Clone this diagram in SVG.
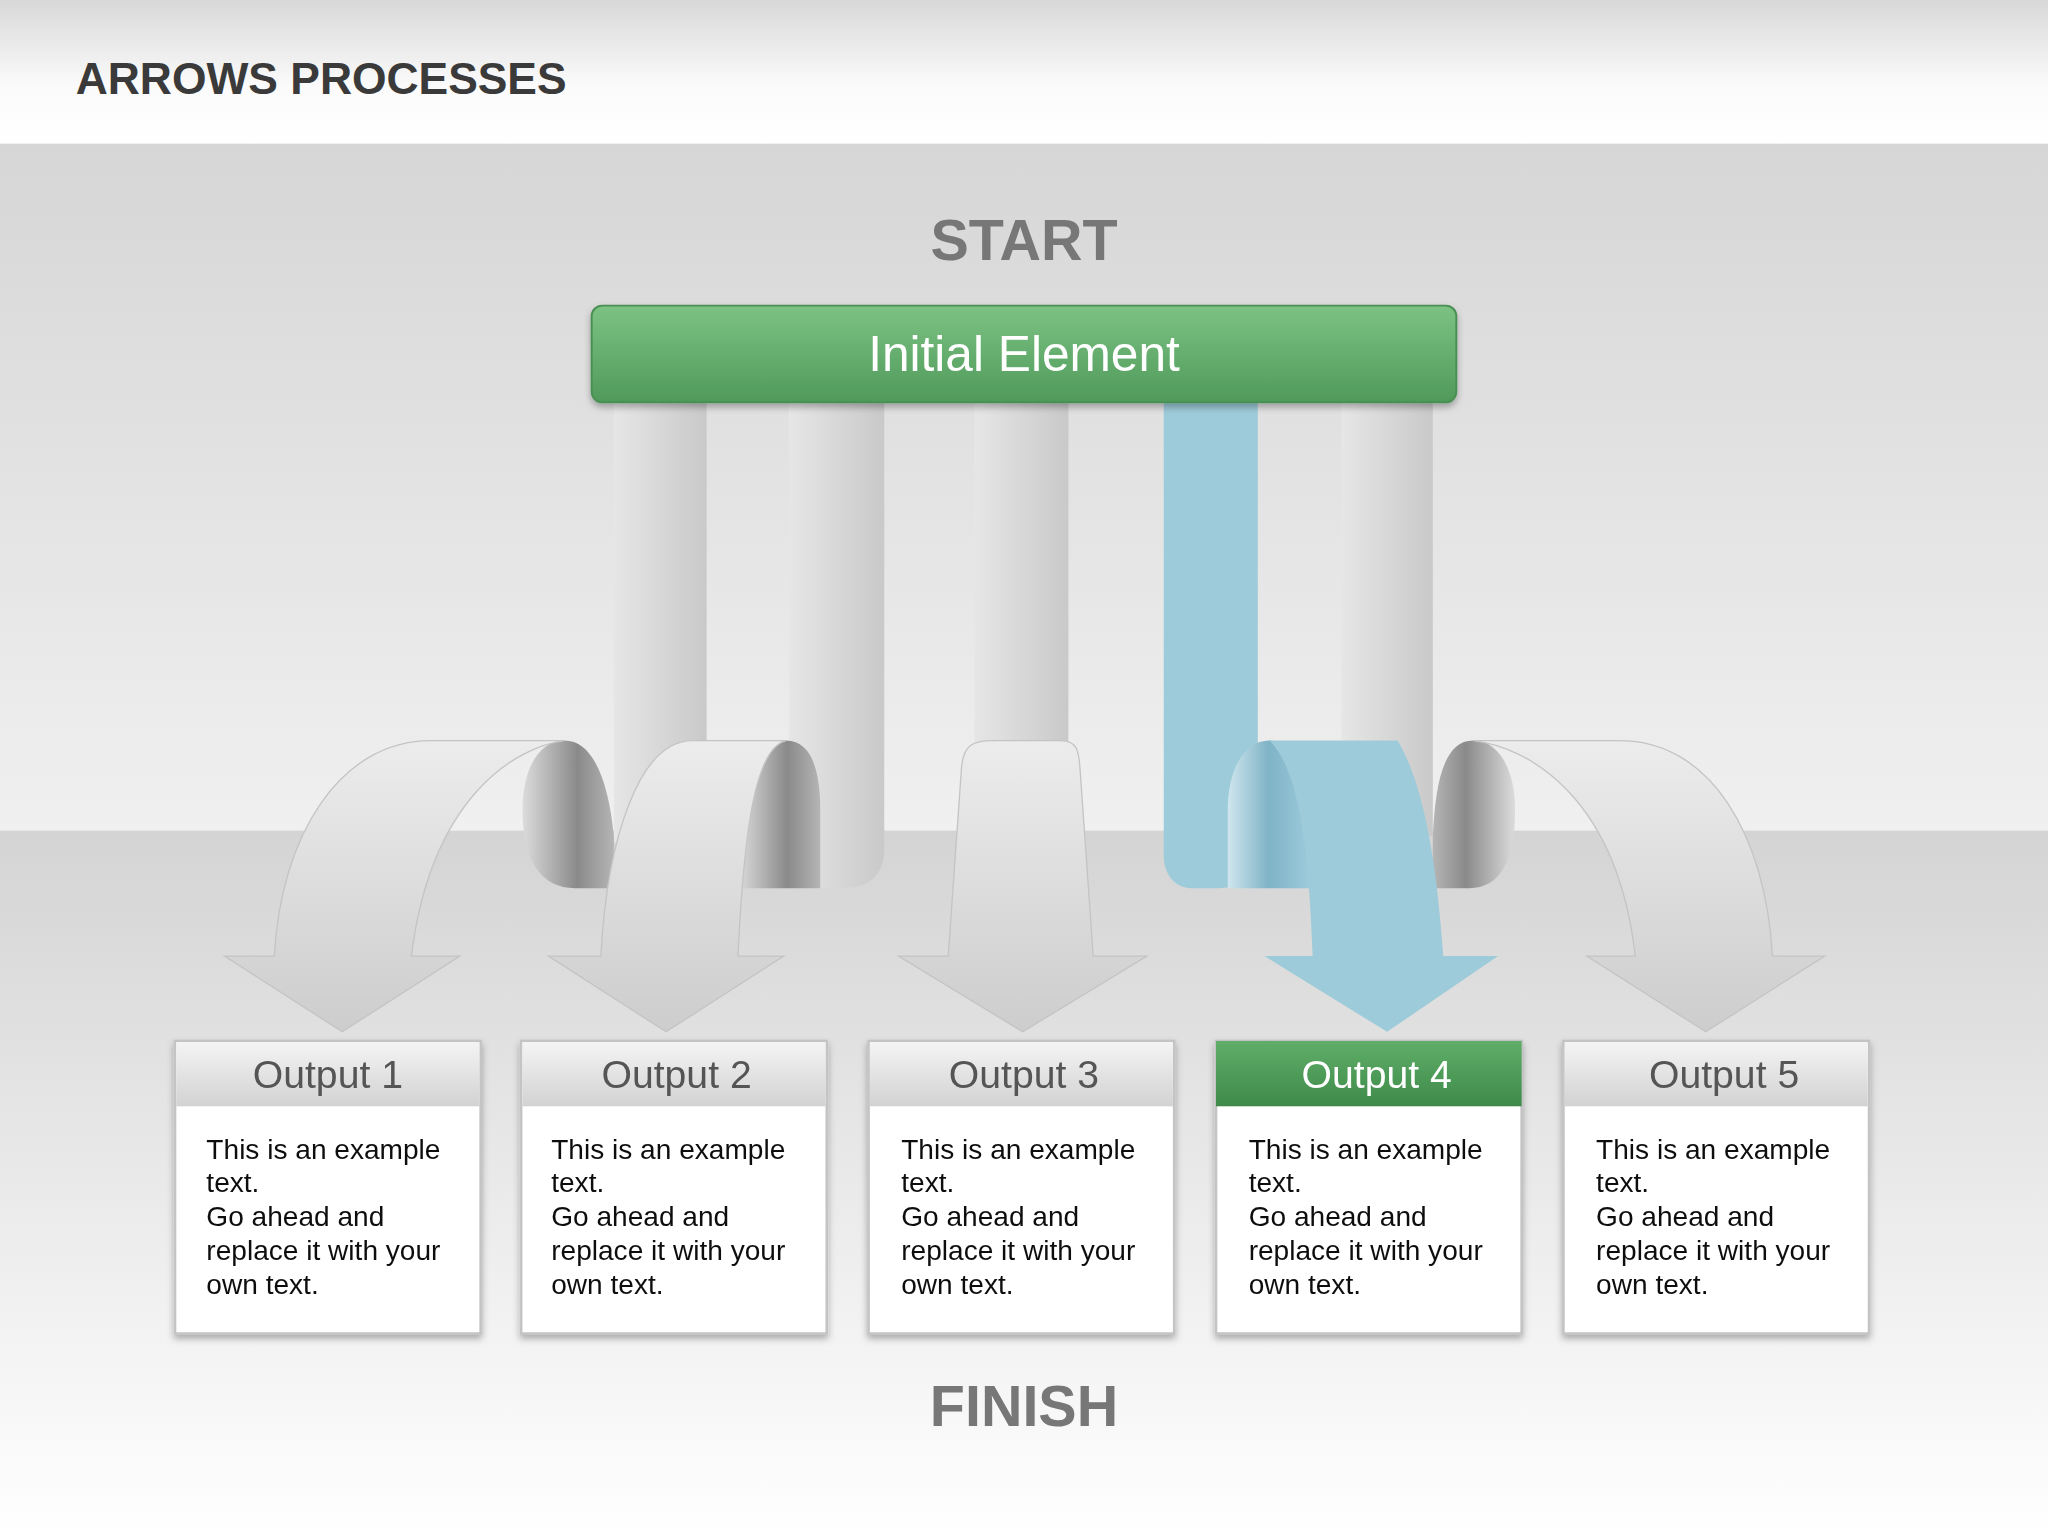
<svg xmlns="http://www.w3.org/2000/svg" width="2048" height="1536" viewBox="0 0 2048 1536">
<defs>
<linearGradient id="hdr" x1="0" y1="0" x2="0" y2="1"><stop offset="0" stop-color="#d8d8d8"/><stop offset="0.6" stop-color="#fbfbfb"/><stop offset="1" stop-color="#ffffff"/></linearGradient>
<linearGradient id="wall" x1="0" y1="0" x2="0" y2="1"><stop offset="0" stop-color="#d6d6d6"/><stop offset="1" stop-color="#f0f0f0"/></linearGradient>
<linearGradient id="floor" x1="0" y1="0" x2="0" y2="1"><stop offset="0" stop-color="#d4d4d4"/><stop offset="1" stop-color="#ffffff"/></linearGradient>
<linearGradient id="green" x1="0" y1="0" x2="0" y2="1"><stop offset="0" stop-color="#7cc283"/><stop offset="1" stop-color="#4f9a5a"/></linearGradient>
<linearGradient id="strip" x1="0" y1="0" x2="1" y2="0"><stop offset="0" stop-color="#e6e6e6"/><stop offset="1" stop-color="#c9c9c9"/></linearGradient>
<linearGradient id="arrow" x1="0" y1="0" x2="0" y2="1"><stop offset="0" stop-color="#ececec"/><stop offset="1" stop-color="#cdcdcd"/></linearGradient>
<linearGradient id="dark" x1="0" y1="0" x2="1" y2="0"><stop offset="0" stop-color="#dcdcdc"/><stop offset="0.6" stop-color="#8a8a8a"/><stop offset="1" stop-color="#b5b5b5"/></linearGradient>
<linearGradient id="darkR" x1="1" y1="0" x2="0" y2="0"><stop offset="0" stop-color="#dcdcdc"/><stop offset="0.6" stop-color="#8a8a8a"/><stop offset="1" stop-color="#b5b5b5"/></linearGradient>
<linearGradient id="blueDark" x1="0" y1="0" x2="1" y2="0"><stop offset="0" stop-color="#cfe6ee"/><stop offset="0.5" stop-color="#7fb3c6"/><stop offset="1" stop-color="#9ccbdb"/></linearGradient>
<linearGradient id="ohdr" x1="0" y1="0" x2="0" y2="1"><stop offset="0" stop-color="#f4f4f4"/><stop offset="1" stop-color="#d2d2d2"/></linearGradient>
<linearGradient id="ohdrG" x1="0" y1="0" x2="0" y2="1"><stop offset="0" stop-color="#5fae68"/><stop offset="1" stop-color="#3f8a4a"/></linearGradient>
<filter id="sh" x="-10%" y="-10%" width="120%" height="130%"><feDropShadow dx="0" dy="3" stdDeviation="3" flood-opacity="0.3"/></filter>
</defs>
<style>
.t{font-family:"Liberation Sans",Arial,sans-serif}
.oh{font-size:30px;fill:#555;text-anchor:middle}
.ob{font-size:21.5px;fill:#111}
.box{fill:#fff;stroke:#c4c4c4;stroke-width:2}
.gs{fill:url(#strip)}
.ga{fill:url(#arrow);stroke:#c4c4c4;stroke-width:1}
.bl{fill:#9ecbd9}
</style>
<rect width="2048" height="1536" fill="#fff"/>
<g transform="scale(1.30612)">
<rect x="0" y="0" width="1568" height="110" fill="url(#hdr)"/>
<rect x="0" y="110" width="1568" height="527" fill="url(#wall)"/>
<rect x="0" y="636" width="1568" height="540" fill="url(#floor)"/>
<text class="t" x="58" y="72" font-size="34" font-weight="bold" fill="#3a3a3a">ARROWS PROCESSES</text>
<text class="t" x="784" y="199" font-size="44" font-weight="bold" fill="#777" text-anchor="middle">START</text>
<text class="t" x="784" y="1092" font-size="44" font-weight="bold" fill="#777" text-anchor="middle">FINISH</text>

<g id="connectors">
<!-- strips -->
<rect class="gs" x="470" y="305" width="71" height="340"/>
<path class="gs" d="M604,305 H677 V650 C677,670 665,680 645,680 H610 V640 H604 Z"/>
<rect class="gs" x="746" y="305" width="72" height="270"/>
<path class="gs" d="M1027,305 H1097 V640 H1027 Z"/>
<!-- ribbon 1 -->
<path fill="url(#dark)" d="M400,620 C400,590 412,567 432,567 C455,567 466,600 470,640 L470,680 L440,680 C415,680 400,660 400,620 Z"/>
<path class="ga" d="M210,732 C215,640 260,567 330,567 L432,567 C395,572 330,610 315,732 L352,732 L262,790 L172,732 Z"/>
<!-- ribbon 2 -->
<path fill="url(#dark)" d="M565,680 L565,640 C568,600 582,567 602,567 C622,567 628,592 628,620 L628,680 Z"/>
<path class="ga" d="M460,732 C465,640 490,567 530,567 L602,567 C580,572 570,625 565,732 L600,732 L510,790 L420,732 Z"/>
<!-- ribbon 3 -->
<path class="ga" d="M726,732 L736,590 C737,570 745,567 760,567 L812,567 C825,567 826,575 827,590 L837,732 L878,732 L783,790 L688,732 Z"/>
<!-- ribbon 5 -->
<path fill="url(#darkR)" d="M1160,620 C1160,590 1148,567 1128,567 C1105,567 1099,600 1097,640 L1097,680 L1125,680 C1148,680 1160,660 1160,620 Z"/>
<path class="ga" d="M1357,732 C1352,640 1310,567 1240,567 L1128,567 C1170,572 1238,610 1252,732 L1215,732 L1306,790 L1397,732 Z"/>
<!-- ribbon 4 blue -->
<path class="bl" d="M891,305 H963 V650 C963,670 952,680 932,680 H912 C900,680 891,670 891,655 Z"/>
<path fill="url(#blueDark)" d="M940,680 L940,620 C940,590 952,567 972,567 C992,567 1000,600 1003,640 L1003,680 Z"/>
<path class="bl" d="M972,567 L1070,567 C1090,600 1100,660 1105,732 L1147,732 L1062,790 L968,732 L1005,732 C1002,650 995,590 972,567 Z"/>
</g>

<g id="initial" filter="url(#sh)">
<rect x="453" y="234" width="662" height="74" rx="8" fill="url(#green)" stroke="#4a8f53" stroke-width="1.5"/>
<text class="t" x="784" y="284" font-size="38" fill="#fff" text-anchor="middle">Initial Element</text>
</g>

<g id="out1" filter="url(#sh)"><rect class="box" x="134" y="797" width="234" height="224"/><rect x="135" y="798" width="232" height="49" fill="url(#ohdr)"/>
<text class="t oh" x="251" y="833">Output 1</text>
<text class="t ob" x="158" y="887">This is an example</text><text class="t ob" x="158" y="913">text.</text><text class="t ob" x="158" y="939">Go ahead and</text><text class="t ob" x="158" y="965">replace it with your</text><text class="t ob" x="158" y="991">own text.</text></g>
<g id="out2" filter="url(#sh)"><rect class="box" x="399" y="797" width="234" height="224"/><rect x="400" y="798" width="232" height="49" fill="url(#ohdr)"/>
<text class="t oh" x="518" y="833">Output 2</text>
<text class="t ob" x="422" y="887">This is an example</text><text class="t ob" x="422" y="913">text.</text><text class="t ob" x="422" y="939">Go ahead and</text><text class="t ob" x="422" y="965">replace it with your</text><text class="t ob" x="422" y="991">own text.</text></g>
<g id="out3" filter="url(#sh)"><rect class="box" x="665" y="797" width="234" height="224"/><rect x="666" y="798" width="232" height="49" fill="url(#ohdr)"/>
<text class="t oh" x="784" y="833">Output 3</text>
<text class="t ob" x="690" y="887">This is an example</text><text class="t ob" x="690" y="913">text.</text><text class="t ob" x="690" y="939">Go ahead and</text><text class="t ob" x="690" y="965">replace it with your</text><text class="t ob" x="690" y="991">own text.</text></g>
<g id="out4" filter="url(#sh)"><rect class="box" x="931" y="797" width="234" height="224"/><rect x="931" y="797" width="234" height="50" fill="url(#ohdrG)"/>
<text class="t oh" x="1054" y="833" style="fill:#fff">Output 4</text>
<text class="t ob" x="956" y="887">This is an example</text><text class="t ob" x="956" y="913">text.</text><text class="t ob" x="956" y="939">Go ahead and</text><text class="t ob" x="956" y="965">replace it with your</text><text class="t ob" x="956" y="991">own text.</text></g>
<g id="out5" filter="url(#sh)"><rect class="box" x="1197" y="797" width="234" height="224"/><rect x="1198" y="798" width="232" height="49" fill="url(#ohdr)"/>
<text class="t oh" x="1320" y="833">Output 5</text>
<text class="t ob" x="1222" y="887">This is an example</text><text class="t ob" x="1222" y="913">text.</text><text class="t ob" x="1222" y="939">Go ahead and</text><text class="t ob" x="1222" y="965">replace it with your</text><text class="t ob" x="1222" y="991">own text.</text></g>
</g>
</svg>
